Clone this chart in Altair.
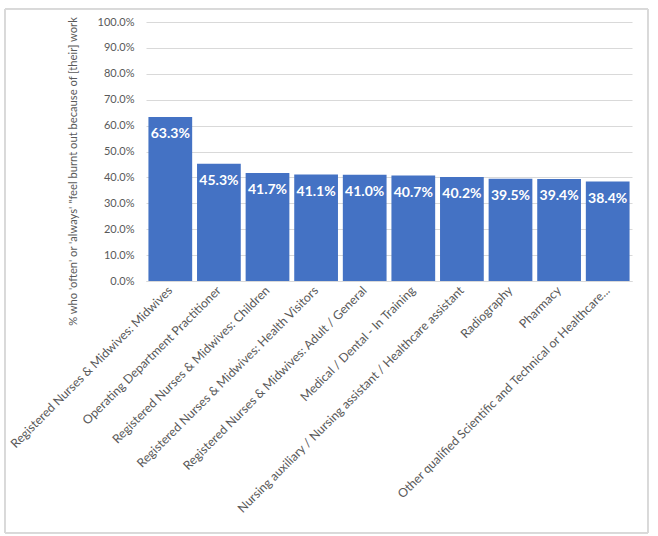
import altair as alt
import pandas as pd

categories = [
    "Registered Nurses & Midwives: Midwives",
    "Operating Department Practitioner",
    "Registered Nurses & Midwives: Children",
    "Registered Nurses & Midwives: Health Visitors",
    "Registered Nurses & Midwives: Adult / General",
    "Medical / Dental - In Training",
    "Nursing auxiliary / Nursing assistant / Healthcare assistant",
    "Radiography",
    "Pharmacy",
    "Other qualified Scientific and Technical or Healthcare...",
]
values = [0.633, 0.453, 0.417, 0.411, 0.410, 0.407, 0.402, 0.395, 0.394, 0.384]
tick_values = [0.0, 0.1, 0.2, 0.3, 0.4, 0.5, 0.6, 0.7, 0.8, 0.9, 1.0]

df = pd.DataFrame({"cat": categories, "val": values})

FONT = "Lato"
GREY = "#595959"

x = alt.X(
    "cat:N",
    sort=None,
    title=None,
    scale=alt.Scale(paddingInner=0.1, paddingOuter=0.05),
    axis=alt.Axis(
        labelAngle=-45,
        labelAlign="right",
        labelBaseline="middle",
        labelFont=FONT,
        labelFontSize=12.3,
        labelColor=GREY,
        labelLimit=400,
        labelPadding=7,
        labelOverlap=False,
        ticks=False,
        domainColor="#d9d9d9",
    ),
)
y = alt.Y(
    "val:Q",
    scale=alt.Scale(domain=[0, 1]),
    title="% who 'often' or 'always' \"feel burnt out because of [their] work",
    axis=alt.Axis(
        format=".1%",
        values=tick_values,
        labelOverlap=False,
        ticks=False,
        domain=False,
        labelFont=FONT,
        labelFontSize=11,
        labelColor=GREY,
        labelPadding=12,
        titleFont=FONT,
        titleFontSize=11.2,
        titleFontWeight="normal",
        titleColor=GREY,
        titleAngle=-90,
        titleAlign="center",
        titleBaseline="bottom",
        titleX=-68,
        titleY=149,
        gridColor="#d9d9d9",
    ),
)

base = alt.Chart(df).encode(x=x, y=y)
bars = base.mark_bar(color="#4472C4")
labels = base.mark_text(
    color="white", font=FONT, fontWeight="bold", fontSize=14, baseline="top", dy=10
).encode(text=alt.Text("val:Q", format=".1%"))

frame = alt.Chart(df).mark_rect(
    fill=None, stroke="#d9d9d9", strokeWidth=1, clip=False
).encode(
    x=alt.value(-141), x2=alt.value(502), y=alt.value(-13), y2=alt.value(511)
)

chart = alt.layer(bars, labels, frame).properties(
    width=486,
    height=259,
    background="white",
    autosize=alt.AutoSizeParams(type="none"),
    padding={"left": 146, "top": 22, "right": 26, "bottom": 255},
).configure_view(stroke=None)

chart.save("out.html", embed_options={"renderer": "svg", "actions": False})
